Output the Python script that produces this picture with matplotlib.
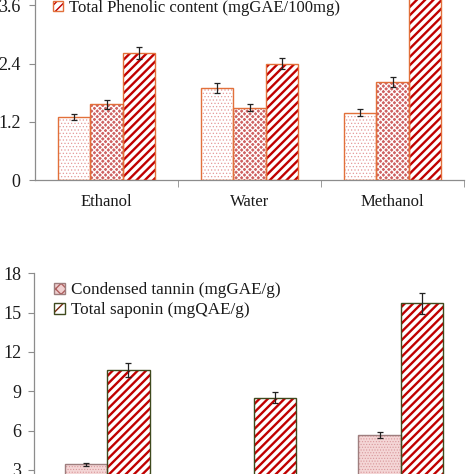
import matplotlib
matplotlib.use("Agg")
import matplotlib.pyplot as plt
import numpy as np
from matplotlib.patches import Patch
from matplotlib.legend_handler import HandlerTuple

plt.rcParams["font.family"] = ["Liberation Serif", "DejaVu Serif"]
plt.rcParams["font.size"] = 12

# ---- data ----
solvents = ["Ethanol", "Water", "Methanol"]

# top panel, three series per solvent
series1 = [1.30, 1.90, 1.39]
series1_err = [0.06, 0.10, 0.08]
series2 = [1.56, 1.49, 2.02]
series2_err = [0.09, 0.07, 0.10]
phenolic = [2.61, 2.40, 3.90]
phenolic_err = [0.12, 0.12, 0.15]
phenolic_label = "Total Phenolic content (mgGAE/100mg)"
top_ticks = [0, 1.2, 2.4, 3.6, 4.8]

# bottom panel
tannin = [3.43, 2.50, 5.65]
tannin_err = [0.13, 0.10, 0.25]
saponin = [10.63, 8.52, 15.72]
saponin_err = [0.51, 0.43, 0.81]
bottom_labels = ["Condensed tannin (mgGAE/g)", "Total saponin (mgQAE/g)"]
bottom_ticks = [0, 3, 6, 9, 12, 15, 18]

ORANGE = "#E2703A"
RED = "#C00000"
OLIVE = "#3F4A1E"
TEXT = "#1a1a1a"
AXIS = "#8c8c8c"


def hatched_bar(ax, x, h, w, err, face, hatch, hcolor, ecolor, hlw):
    with plt.rc_context({"hatch.linewidth": hlw}):
        ax.bar(x, h, w, color=face, edgecolor=hcolor, linewidth=0, hatch=hatch, zorder=2)
    ax.bar(x, h, w, fill=False, edgecolor=ecolor, linewidth=1.0, zorder=3)
    ax.errorbar(x, h, yerr=err, fmt="none", ecolor="#222222", elinewidth=0.9,
                capsize=2.5, capthick=0.9, zorder=4)


def legend_handle(face, hatch, hcolor, ecolor, hlw):
    with plt.rc_context({"hatch.linewidth": hlw}):
        inner = Patch(facecolor=face, edgecolor=hcolor, linewidth=0, hatch=hatch)
    return (inner, Patch(fill=False, edgecolor=ecolor, linewidth=1.0))


def style_axes(ax, ypad):
    for side in ("top", "right"):
        ax.spines[side].set_visible(False)
    for side in ("left", "bottom"):
        ax.spines[side].set_color(AXIS)
        ax.spines[side].set_linewidth(0.9)
    ax.tick_params(axis="y", direction="out", length=4, color=AXIS, labelcolor=TEXT,
                   pad=ypad, labelsize=13)
    ax.tick_params(axis="x", which="major", length=0, labelcolor=TEXT, pad=10)
    ax.tick_params(axis="x", which="minor", direction="out", length=5, color=AXIS)
    ax.set_xticks([0.5, 1.5, 2.5], minor=True)


fig = plt.figure(figsize=(4.74, 4.74), dpi=100)
x = np.arange(len(solvents))
tuple_map = {tuple: HandlerTuple(ndivide=1, pad=0)}

# ---- top panel ----
ax1 = fig.add_axes([35 / 474, 0.620, 429 / 474, 0.492])
w = 0.224
hatched_bar(ax1, x - w, series1, w, series1_err, "white", ".....", "#E49A9A", ORANGE, 0.5)
hatched_bar(ax1, x, series2, w, series2_err, "#CE6262", "xxxxxx", "white", ORANGE, 0.9)
hatched_bar(ax1, x + w, phenolic, w, phenolic_err, "white", "////", RED, ORANGE, 1.7)
ax1.set_xlim(-0.5, 2.5)
ax1.set_ylim(0, 4.8)
ax1.set_yticks(top_ticks)
ax1.set_yticklabels([f"{t:g}" for t in top_ticks])
ax1.set_xticks(x)
ax1.set_xticklabels(solvents)
style_axes(ax1, 6.5)

ax1.legend([legend_handle("white", "////", RED, ORANGE, 1.7)], [phenolic_label],
           handler_map=tuple_map, loc="upper left", bbox_to_anchor=(0.026, 0.802),
           frameon=False, handlelength=0.6, handleheight=0.6, handletextpad=0.35,
           borderaxespad=0, labelcolor=TEXT)

# ---- bottom panel ----
ax2 = fig.add_axes([34 / 474, -0.0745, 440 / 474, 0.498])
w2 = 0.288
hatched_bar(ax2, x - w2 / 2, tannin, w2, tannin_err, "#F4D6D6", "......", "#D9989C", "#9E7E7E", 0.5)
hatched_bar(ax2, x + w2 / 2, saponin, w2, saponin_err, "white", "////", RED, OLIVE, 1.7)
ax2.set_xlim(-0.5, 2.5)
ax2.set_ylim(0, 18)
ax2.set_yticks(bottom_ticks)
ax2.set_xticks(x)
ax2.set_xticklabels([])
style_axes(ax2, 5)

ax2.legend([legend_handle("#F0D0D0", "xxx", "#B06060", "#9E7E7E", 0.6),
            legend_handle("white", "//", "#7A2A10", OLIVE, 2.0)],
           bottom_labels, handler_map=tuple_map, loc="upper left",
           bbox_to_anchor=(0.031, 0.9915), frameon=False, handlelength=0.6,
           handleheight=0.6, handletextpad=0.35, borderaxespad=0, labelspacing=0.25,
           labelcolor=TEXT, fontsize=12.3)

fig.savefig("out.png", dpi=100)
